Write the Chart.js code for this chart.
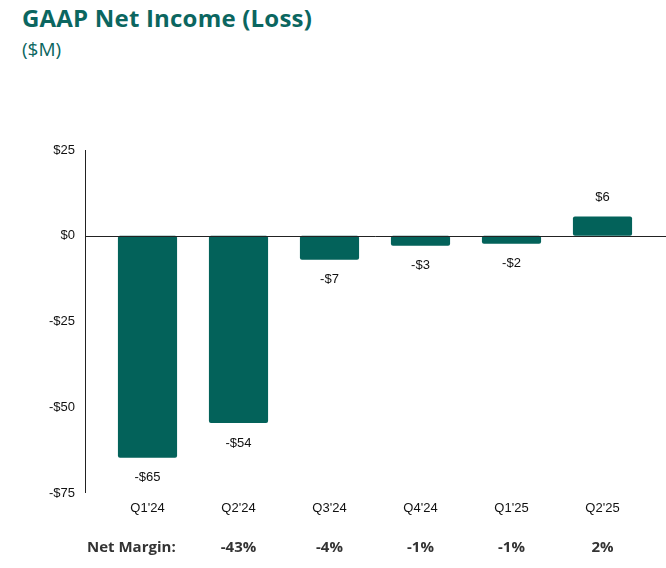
<!DOCTYPE html>
<html>
<head>
<meta charset="utf-8">
<script src="https://cdn.jsdelivr.net/npm/chart.js@4.4.0/dist/chart.umd.min.js"></script>
<style>
  html, body { margin: 0; padding: 0; background: #ffffff; }
  #wrap { position: relative; width: 666px; height: 568px; overflow: hidden; }
  #title { position: absolute; left: 22px; top: 1px; font-family: "Open Sans", sans-serif; font-weight: 700; font-size: 24px; color: #0b6660; white-space: nowrap; letter-spacing: 0.2px; }
  #subtitle { position: absolute; left: 22px; top: 36px; font-family: "Open Sans", sans-serif; font-weight: 400; font-size: 19px; color: #0b6660; white-space: nowrap; }
  #c { position: absolute; left: 0; top: 0; }
</style>
</head>
<body>
<div id="wrap">
  <div id="title">GAAP Net Income (Loss)</div>
  <div id="subtitle">($M)</div>
  <canvas id="c" width="666" height="568"></canvas>
</div>
<script>
const categories = ["Q1'24", "Q2'24", "Q3'24", "Q4'24", "Q1'25", "Q2'25"];
const netIncome = [-64.7, -54.6, -7.0, -2.9, -2.3, 5.6];
const valueLabels = ["-$65", "-$54", "-$7", "-$3", "-$2", "$6"];
const netMargins = ["", "-43%", "-4%", "-1%", "-1%", "2%"];
const yTicks = [25, 0, -25, -50, -75];
const netMarginLabel = "Net Margin:";

const barColor = "#03625a";
const axisColor = "#222222";
const textColor = "#111111";

const customDraw = {
  id: 'customDraw',
  afterDatasetsDraw(chart) {
    const ctx = chart.ctx;
    const x = chart.scales.x, y = chart.scales.y;
    ctx.save();
    // axes
    ctx.strokeStyle = axisColor;
    ctx.lineWidth = 1;
    const axisX = 85.5;
    ctx.beginPath();
    ctx.moveTo(axisX, y.getPixelForValue(25));
    ctx.lineTo(axisX, y.getPixelForValue(-75));
    ctx.stroke();
    const zy = Math.round(y.getPixelForValue(0)) + 0.5;
    ctx.beginPath();
    ctx.moveTo(axisX, zy);
    ctx.lineTo(chart.width, zy);
    ctx.stroke();
    // value labels
    ctx.fillStyle = textColor;
    ctx.font = '13px "Liberation Sans", Arial, sans-serif';
    ctx.textAlign = 'center';
    ctx.textBaseline = 'middle';
    const meta = chart.getDatasetMeta(0);
    meta.data.forEach((bar, i) => {
      const v = netIncome[i];
      const yy = v < 0 ? bar.y + 20 : bar.y - 19;
      ctx.fillText(valueLabels[i], bar.x, yy);
    });
    // net margin row
    ctx.fillStyle = '#333333';
    ctx.font = '700 15px "Open Sans", sans-serif';
    ctx.textAlign = 'left';
    ctx.fillText(netMarginLabel, 87, 548);
    ctx.textAlign = 'center';
    netMargins.forEach((m, i) => {
      if (m) ctx.fillText(m, x.getPixelForValue(i), 548);
    });
    ctx.restore();
  }
};

new Chart(document.getElementById('c'), {
  type: 'bar',
  data: {
    labels: categories,
    datasets: [{
      data: netIncome,
      backgroundColor: barColor,
      borderRadius: 2,
      borderSkipped: false,
      categoryPercentage: 1.0,
      barPercentage: 0.65
    }]
  },
  options: {
    responsive: false,
    animation: false,
    devicePixelRatio: 1,
    layout: { padding: { top: 150, right: 18, bottom: 50, left: 0 } },
    plugins: { legend: { display: false }, tooltip: { enabled: false } },
    scales: {
      x: {
        grid: { display: false, drawTicks: false },
        border: { display: false },
        ticks: { color: textColor, padding: 8, font: { family: '"Liberation Sans", Arial, sans-serif', size: 13 } },
        afterFit(s) { s.height = 25; }
      },
      y: {
        min: -75, max: 25,
        grid: { display: false, drawTicks: false },
        border: { display: false },
        afterBuildTicks(s) { s.ticks = yTicks.map(v => ({ value: v })); },
        ticks: {
          color: textColor, padding: 27,
          font: { family: '"Liberation Sans", Arial, sans-serif', size: 13 },
          callback: v => (v < 0 ? '-$' + Math.abs(v) : '$' + v)
        },
        afterFit(s) { s.width = 102; }
      }
    }
  },
  plugins: [customDraw]
});
</script>
</body>
</html>
